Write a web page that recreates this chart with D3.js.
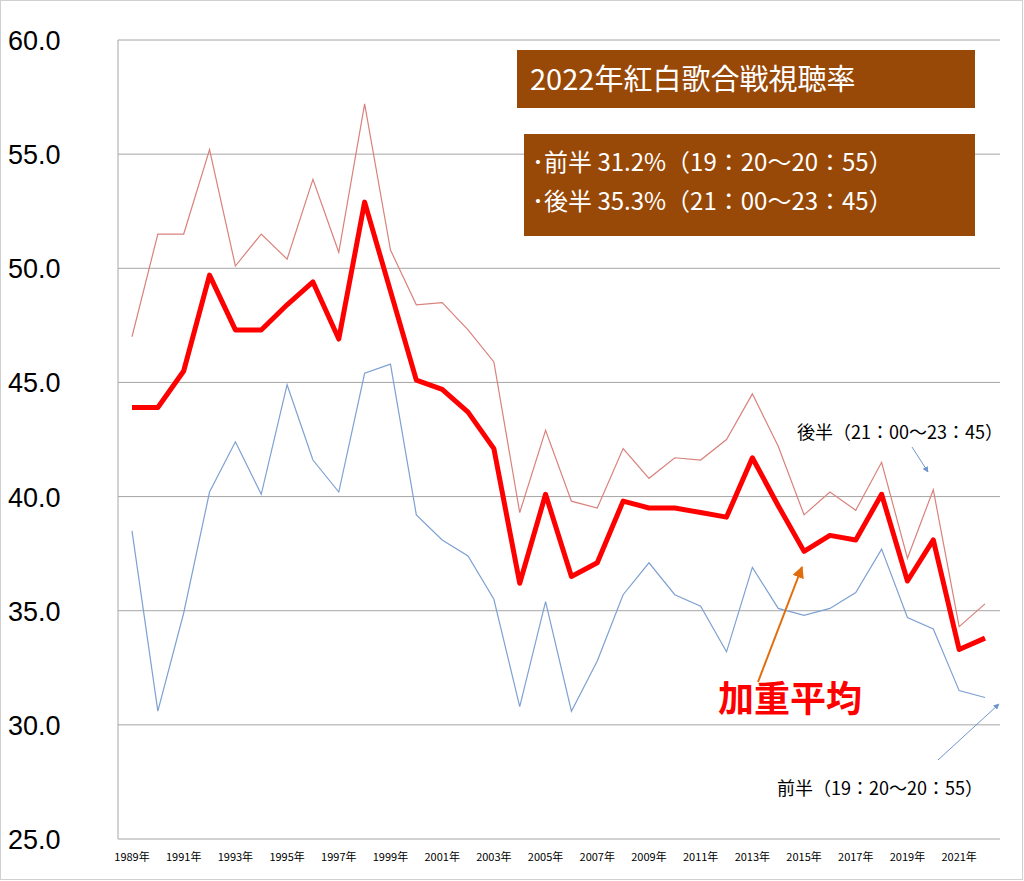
<!DOCTYPE html>
<html lang="ja">
<head>
<meta charset="UTF-8">
<style>
  body { margin: 0; background: #fff; }
  svg { font-family: "Noto Sans CJK JP", "Noto Sans", sans-serif; }
</style>
<script src="https://d3js.org/d3.v7.min.js"></script>
</head>
<body>
<svg id="chart" width="1024" height="881"></svg>
<script>
const years = d3.range(1989, 2023);
const firstHalf = [38.5,30.6,34.9,40.2,42.4,40.1,44.9,41.6,40.2,45.4,45.8,39.2,38.1,37.4,35.5,30.8,35.4,30.6,32.8,35.7,37.1,35.7,35.2,33.2,36.9,35.1,34.8,35.1,35.8,37.7,34.7,34.2,31.5,31.2];
const secondHalf = [47.0,51.5,51.5,55.2,50.1,51.5,50.4,53.9,50.7,57.2,50.8,48.4,48.5,47.3,45.9,39.3,42.9,39.8,39.5,42.1,40.8,41.7,41.6,42.5,44.5,42.2,39.2,40.2,39.4,41.5,37.3,40.3,34.3,35.3];
const weighted = [43.9,43.9,45.5,49.7,47.3,47.3,48.4,49.4,46.9,52.9,49.0,45.1,44.7,43.7,42.1,36.2,40.1,36.5,37.1,39.8,39.5,39.5,39.3,39.1,41.7,39.6,37.6,38.3,38.1,40.1,36.3,38.1,33.3,33.8];
const yTicks = [25, 30, 35, 40, 45, 50, 55, 60];

const svg = d3.select("#chart");
svg.append("rect").attr("x", 0.5).attr("y", 0.5).attr("width", 1022).attr("height", 879)
  .attr("fill", "#fff").attr("stroke", "#d0d0d0");

const x = d3.scaleLinear().domain([1989, 2022]).range([132, 985]);
const y = d3.scaleLinear().domain([25, 60]).range([839, 40]);

// grid
svg.append("g").selectAll("line").data(yTicks).enter().append("line")
  .attr("x1", 118).attr("x2", 1000)
  .attr("y1", d => y(d)).attr("y2", d => y(d))
  .attr("stroke", "#a6a6a6").attr("stroke-width", 1);
svg.append("line").attr("x1", 118).attr("x2", 118).attr("y1", y(60)).attr("y2", y(25))
  .attr("stroke", "#a6a6a6");

svg.append("g").selectAll("text").data(yTicks).enter().append("text")
  .attr("x", 8).attr("y", d => y(d) + 10)
  .attr("font-family", "Liberation Sans, Arial").attr("font-size", 27)
  .text(d => d.toFixed(1));

svg.append("g").selectAll("text").data(years.filter(d => d % 2 === 1)).enter().append("text")
  .attr("x", d => x(d)).attr("y", 861).attr("text-anchor", "middle")
  .attr("font-size", 11).text(d => d + "年");

const line = d3.line().x((d, i) => x(years[i])).y(d => y(d));
svg.append("path").datum(secondHalf).attr("d", line).attr("fill", "none")
  .attr("stroke", "#d9827c").attr("stroke-width", 1.2);
svg.append("path").datum(firstHalf).attr("d", line).attr("fill", "none")
  .attr("stroke", "#7ea1d2").attr("stroke-width", 1.2);
svg.append("path").datum(weighted).attr("d", line).attr("fill", "none")
  .attr("stroke", "#ff0000").attr("stroke-width", 5).attr("stroke-linejoin", "round");

// boxes
svg.append("rect").attr("x", 517).attr("y", 50).attr("width", 458).attr("height", 58).attr("fill", "#984807");
svg.append("text").attr("x", 530).attr("y", 90).attr("fill", "#fff").attr("font-size", 29)
  .text("2022年紅白歌合戦視聴率");
svg.append("rect").attr("x", 524).attr("y", 134).attr("width", 451).attr("height", 102).attr("fill", "#984807");
svg.append("text").attr("x", 532).attr("y", 171).attr("fill", "#fff").attr("font-size", 24)
  .text("･前半 31.2%（19：20〜20：55）");
svg.append("text").attr("x", 532).attr("y", 210).attr("fill", "#fff").attr("font-size", 24)
  .text("･後半 35.3%（21：00〜23：45）");

// annotations
const defs = svg.append("defs");
[["blueArrow", "#6f96cc"], ["orangeArrow", "#e36c0a"]].forEach(([id, c]) => {
  defs.append("marker").attr("id", id).attr("viewBox", "0 0 10 10").attr("refX", 9).attr("refY", 5)
    .attr("markerWidth", 6).attr("markerHeight", 6).attr("orient", "auto")
    .append("path").attr("d", "M0,0 L10,5 L0,10 z").attr("fill", c);
});
svg.append("text").attr("x", 797).attr("y", 439).attr("font-size", 18).text("後半（21：00〜23：45）");
svg.append("line").attr("x1", 912).attr("y1", 447).attr("x2", 928).attr("y2", 472)
  .attr("stroke", "#6f96cc").attr("marker-end", "url(#blueArrow)");
svg.append("text").attr("x", 777).attr("y", 795).attr("font-size", 18).text("前半（19：20〜20：55）");
svg.append("line").attr("x1", 938).attr("y1", 760).attr("x2", 999).attr("y2", 704)
  .attr("stroke", "#6f96cc").attr("marker-end", "url(#blueArrow)");
svg.append("text").attr("x", 718).attr("y", 712).attr("font-size", 36).attr("font-weight", "bold")
  .attr("fill", "#ff0000").text("加重平均");
svg.append("line").attr("x1", 758).attr("y1", 682).attr("x2", 802).attr("y2", 567)
  .attr("stroke", "#e36c0a").attr("stroke-width", 2).attr("marker-end", "url(#orangeArrow)");
</script>
</body>
</html>
